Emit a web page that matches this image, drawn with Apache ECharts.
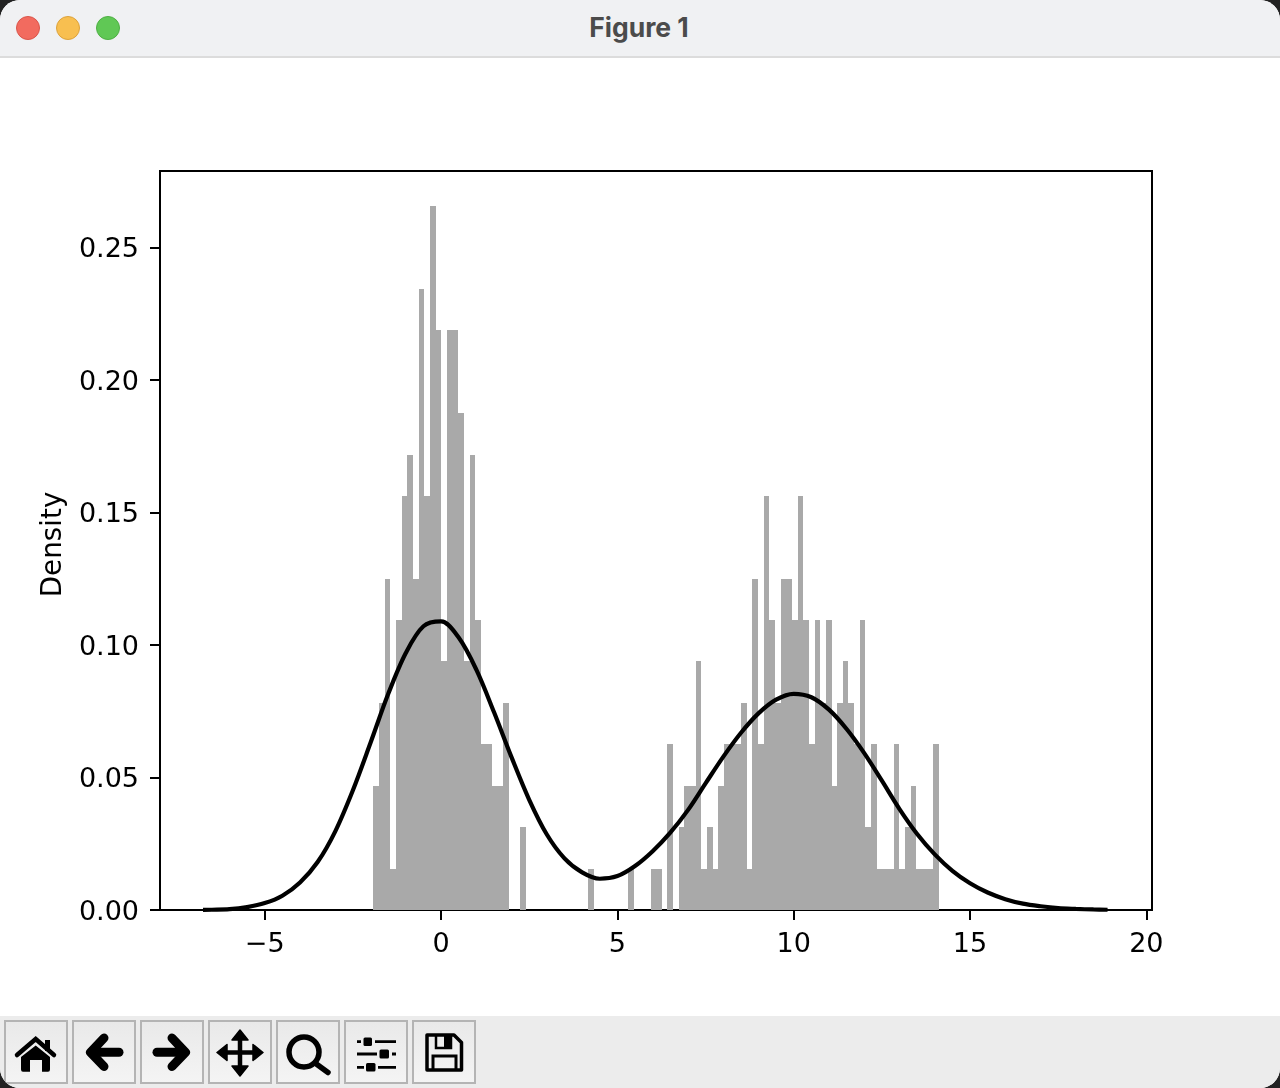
<!DOCTYPE html>
<html>
<head>
<meta charset="utf-8">
<title>Figure 1</title>
<script src="https://cdn.jsdelivr.net/npm/echarts@6/dist/echarts.min.js"></script>
<style>
html,body{margin:0;padding:0;width:1280px;height:1088px;overflow:hidden;background:#222;}
#win{position:absolute;left:0;top:0;width:1280px;height:1088px;background:#fff;border-radius:20px;overflow:hidden;}
#bar{position:absolute;left:0;top:0;width:1280px;height:56px;background:#f0f1f3;border-bottom:2px solid #dcdcdc;box-sizing:content-box;}
#bar .t{position:absolute;left:-2px;right:0;top:0;height:56px;text-align:center;font:700 26.5px/55px Inter,Roboto,sans-serif;color:#4b4b4b;}
.dot{position:absolute;top:16px;width:24px;height:24px;border-radius:50%;box-sizing:border-box;}
#tools{position:absolute;left:0;top:1016px;width:1280px;height:72px;background:#ececec;}
.btn{position:absolute;top:4px;width:64px;height:64px;box-sizing:border-box;border:2px solid #b4b4b4;background:linear-gradient(#e9e9e9,#f4f4f4);}
.btn svg{position:absolute;left:-2px;top:-2px;}
#chart{position:absolute;left:0;top:0;width:1280px;height:1088px;}
</style>
</head>
<body>
<div id="win">
  <div id="bar">
    <div class="dot" style="left:16px;background:#f26b5f;border:1px solid #d9564b"></div>
    <div class="dot" style="left:56px;background:#f8bf50;border:1px solid #dca23c"></div>
    <div class="dot" style="left:96px;background:#60c855;border:1px solid #4eaf44"></div>
    <div class="t">Figure 1</div>
  </div>
  <div id="tools">
    <div class="btn" style="left:4px"><svg width="64" height="64"><path d="M13 35 L31.7 19 L50 35" fill="none" stroke="#000" stroke-width="4.5" stroke-linecap="round"/><path d="M41 20h5v11h-5z" fill="#000"/><path d="M17 37 L31.7 25.5 L46 37 V49.5 Q46 51.7 44 51.7 H38 V40 H26 V51.7 H19 Q17 51.7 17 49.5 Z" fill="#000"/></svg></div>
    <div class="btn" style="left:72px"><svg width="64" height="64"><path d="M32 18 L18.5 32.3 L32 46.5" fill="none" stroke="#000" stroke-width="9" stroke-linecap="round" stroke-linejoin="round"/><path d="M20 32.3 H47" stroke="#000" stroke-width="9" stroke-linecap="round"/></svg></div>
    <div class="btn" style="left:140px"><svg width="64" height="64"><path d="M32 18 L45.5 32.3 L32 46.5" fill="none" stroke="#000" stroke-width="9" stroke-linecap="round" stroke-linejoin="round"/><path d="M44 32.3 H17" stroke="#000" stroke-width="9" stroke-linecap="round"/></svg></div>
    <div class="btn" style="left:208px"><svg width="64" height="64"><path d="M32 14 V51 M13 32.5 H51" stroke="#000" stroke-width="4.5"/><path d="M32 10 L40 20 H24 Z M32 56 L40 46 H24 Z M9 32.5 L19 24.5 V40.5 Z M55 32.5 L45 24.5 V40.5 Z" fill="#000" stroke="#000" stroke-width="1.5" stroke-linejoin="round"/></svg></div>
    <div class="btn" style="left:276px"><svg width="64" height="64"><circle cx="28" cy="32" r="15" fill="none" stroke="#000" stroke-width="5.5"/><path d="M39 43 L52 52.5" stroke="#000" stroke-width="5.5" stroke-linecap="round"/></svg></div>
    <div class="btn" style="left:344px"><svg width="64" height="64"><path d="M13 21.7 H17 M31 21.7 H52 M13 34 H33 M48 34 H52 M13 47.3 H20 M34 47.3 H52" stroke="#000" stroke-width="2.8"/><rect x="19.5" y="17.5" width="8.5" height="8.5" rx="1.5"/><rect x="35.5" y="29.5" width="9.5" height="9" rx="1.5"/><rect x="22" y="43" width="9.5" height="8.5" rx="1.5"/></svg></div>
    <div class="btn" style="left:412px"><svg width="64" height="64"><path d="M15 15 H42 L49.5 22.5 V50 H15 Z" fill="none" stroke="#000" stroke-width="3.5" stroke-linejoin="round"/><path d="M24 16 V28 H39 V16" fill="none" stroke="#000" stroke-width="2.5"/><rect x="32" y="16" width="6" height="11"/><path d="M21 49 V36 H44 V49" fill="none" stroke="#000" stroke-width="3"/></svg></div>
  </div>
  <div id="chart"></div>
</div>
<script>
// Histogram: 100 bins starting near -1.92
const binStart = -1.92;
const binWidth = 0.1604;
const densityValues = [
  0.0469,0.0781,0.125,0.0156,0.1094,0.1563,0.1719,0.125,0.2344,0.1563,
  0.2656,0.2188,0.0938,0.2188,0.2188,0.1875,0.0938,0.1719,0.1094,0.0625,
  0.0625,0.0469,0.0469,0.0781,0,0,0.0313,0,0,0,
  0,0,0,0,0,0,0,0,0.0156,0,
  0,0,0,0,0,0.0156,0,0,0,0.0156,
  0.0156,0,0.0625,0,0.0313,0.0469,0.0469,0.0938,0.0156,0.0313,
  0.0156,0.0469,0.0625,0.0625,0.0625,0.0781,0.0156,0.125,0.0625,0.1563,
  0.1094,0.0781,0.125,0.125,0.1094,0.1563,0.1094,0.0625,0.1094,0.0781,
  0.1094,0.0469,0.0781,0.0938,0.0781,0.0625,0.1094,0.0313,0.0625,0.0156,
  0.0156,0.0156,0.0625,0.0156,0.0313,0.0469,0.0156,0.0156,0.0156,0.0625
];
// Density curve
const curveX = [-6.75,-6.5,-6,-5.5,-5,-4.5,-4,-3.5,-3,-2.5,-2,-1.5,-1,-0.5,0,0.5,1,1.5,2,2.5,3,3.5,4,4.5,5,5.5,6,6.5,7,7.5,8,8.5,9,9.5,10,10.5,11,11.5,12,12.5,13,13.5,14,14.5,15,15.5,16,16.5,17,17.5,18,18.5,18.9];
const curveY = [0.00005,0.0001,0.0003,0.0011,0.0026,0.0054,0.0104,0.0181,0.0297,0.0452,0.0631,0.0815,0.097,0.1071,0.1089,0.1028,0.0907,0.0747,0.0576,0.0416,0.0285,0.0195,0.0142,0.0118,0.0128,0.0166,0.0222,0.0292,0.0377,0.0478,0.0578,0.0668,0.0742,0.0794,0.0816,0.0803,0.0756,0.0683,0.0592,0.0488,0.0381,0.0287,0.021,0.0148,0.0101,0.0066,0.0041,0.0024,0.0014,0.0007,0.0004,0.0002,0.0001];
const xTicks = [-5,0,5,10,15,20];
const yTicks = [0,0.05,0.1,0.15,0.2,0.25];
const yName = 'Density';

const fontFamily = '"DejaVu Sans"';
const chart = echarts.init(document.getElementById('chart'), null, {renderer:'canvas', width:1280, height:1088});
const barData = [];
densityValues.forEach((v,i)=>{ if(v>0) barData.push([binStart+i*binWidth, binStart+(i+1)*binWidth, v]); });

chart.setOption({
  animation:false,
  backgroundColor:'transparent',
  grid:{left:160, top:171, width:992, height:739, show:true, borderColor:'#000', borderWidth:2, backgroundColor:'transparent', containLabel:false},
  xAxis:{
    type:'value', min:-7.97, max:20.16, splitLine:{show:false},
    axisLine:{show:true, onZero:false, lineStyle:{color:'#000',width:2}},
    axisTick:{show:true, length:10, lineStyle:{color:'#000',width:2}, customValues:xTicks},
    axisLabel:{color:'#000', fontFamily, fontSize:27, margin:21, customValues:xTicks,
      formatter:v=>String(v).replace('-','\u2212')}
  },
  yAxis:{
    type:'value', min:0, max:0.2789, splitLine:{show:false},
    name:yName, nameLocation:'middle', nameGap:87, nameRotate:90,
    nameTextStyle:{color:'#000', fontFamily, fontSize:27.8, padding:[0,8,0,0]},
    axisLine:{show:true, onZero:false, lineStyle:{color:'#000',width:2}},
    axisTick:{show:true, length:10, lineStyle:{color:'#000',width:2}, customValues:yTicks},
    axisLabel:{color:'#000', fontFamily, fontSize:27, margin:21, customValues:yTicks,
      formatter:v=>'{a|'+v.toFixed(2)+'}',
      rich:{a:{color:'#000', fontFamily, fontSize:27, padding:[5,0,0,0]}}}
  },
  series:[
    {
      type:'custom', name:'Histogram', clip:true, z:2,
      encode:{x:[0,1], y:2},
      data:barData,
      renderItem:(params,api)=>{
        const a = api.coord([api.value(0), api.value(2)]);
        const b = api.coord([api.value(1), 0]);
        const x0 = Math.round(a[0]), x1 = Math.round(b[0]);
        const y0 = Math.round(a[1]), y1 = Math.round(b[1]);
        return {type:'rect', shape:{x:x0,y:y0,width:x1-x0,height:y1-y0}, style:{fill:'#a9a9a9'}};
      }
    },
    {
      type:'line', name:'Density', z:3, smooth:0.33, showSymbol:false, symbol:'none',
      lineStyle:{color:'#000', width:4.2, cap:'butt'},
      data:curveX.map((x,i)=>[x,curveY[i]])
    }
  ]
});
</script>
</body>
</html>
